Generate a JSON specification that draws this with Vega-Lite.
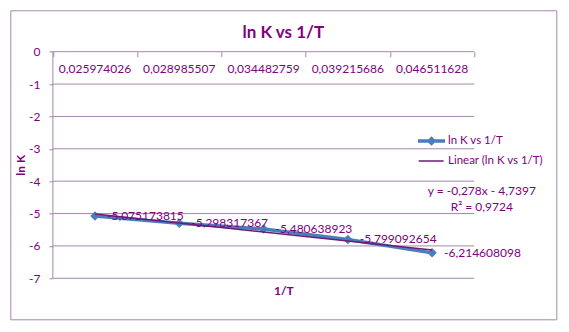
{
  "$schema": "https://vega.github.io/schema/vega-lite/v6.json",
  "width": 546,
  "height": 309,
  "autosize": {"type": "none"},
  "padding": {"left": 10.3, "top": 10.3, "right": 12.7, "bottom": 12.7},
  "background": "white",
  "config": {
    "view": {"stroke": "#A886B0", "strokeWidth": 1},
    "font": "Lato",
    "locale": {"number": {"decimal": ",", "thousands": ".", "grouping": [3], "currency": ["", " €"], "minus": "-"}}
  },
  "title": {
    "text": "ln K vs 1/T",
    "font": "Lato",
    "fontSize": 17,
    "fontWeight": "bold",
    "color": "#800080",
    "frame": "group",
    "baseline": "alphabetic",
    "offset": -44.4
  },
  "datasets": {
    "points": [
      {"idx": 1, "invT": 0.025974026, "lnK": -5.075173815, "series": "ln K vs 1/T"},
      {"idx": 2, "invT": 0.028985507, "lnK": -5.298317367, "series": "ln K vs 1/T"},
      {"idx": 3, "invT": 0.034482759, "lnK": -5.480638923, "series": "ln K vs 1/T"},
      {"idx": 4, "invT": 0.039215686, "lnK": -5.799092654, "series": "ln K vs 1/T"},
      {"idx": 5, "invT": 0.046511628, "lnK": -6.214608098, "series": "ln K vs 1/T"}
    ],
    "grid": [{"v": 0}, {"v": -1}, {"v": -2}, {"v": -3}, {"v": -4}, {"v": -5}, {"v": -6}, {"v": -7}],
    "one": [{}]
  },
  "data": {"name": "points"},
  "layer": [
    {
      "data": {"name": "grid"},
      "mark": {"type": "rule", "color": "#A886B0", "strokeWidth": 1},
      "encoding": {
        "x": {
          "datum": 0.5,
          "type": "quantitative",
          "scale": {"domain": [-0.005, 6.474], "nice": false, "zero": false},
          "axis": {
            "orient": "bottom",
            "offset": -267.6,
            "values": [0.5, 1.5, 2.5, 3.5, 4.5, 5.5],
            "labels": false,
            "domain": false,
            "grid": false,
            "ticks": true,
            "tickSize": 5,
            "tickColor": "#A886B0",
            "title": "1/T",
            "titleFont": "Lato",
            "titleFontSize": 12,
            "titleFontWeight": "bold",
            "titleColor": "#800080",
            "titleY": 239,
            "titleBaseline": "middle"
          }
        },
        "x2": {"datum": 5.5},
        "y": {
          "field": "v",
          "type": "quantitative",
          "scale": {"domain": [-8.267, 1.279], "nice": false, "zero": false},
          "axis": {
            "orient": "left",
            "offset": -42.56,
            "values": [-7, -6, -5, -4, -3, -2, -1, 0],
            "domain": false,
            "grid": false,
            "tickSize": 4,
            "tickColor": "#A886B0",
            "labelFont": "Lato",
            "labelFontSize": 12,
            "labelColor": "#800080",
            "labelPadding": 9,
            "format": "d",
            "title": "ln K",
            "titleFont": "Lato",
            "titleFontSize": 12,
            "titleFontWeight": "bold",
            "titleColor": "#800080",
            "titleX": -32.5,
            "titleBaseline": "middle",
            "titleAlign": "center"
          }
        }
      }
    },
    {
      "data": {"name": "one"},
      "mark": {"type": "rule", "color": "#A886B0", "strokeWidth": 1},
      "encoding": {
        "x": {"datum": 0.5, "type": "quantitative"},
        "y": {"datum": 0, "type": "quantitative"},
        "y2": {"datum": -7}
      }
    },
    {
      "mark": {
        "type": "line",
        "color": "#4A7EBB",
        "strokeWidth": 3.5,
        "point": {"shape": "diamond", "size": 90, "filled": true, "color": "#4A7EBB"}
      },
      "encoding": {
        "x": {"field": "idx", "type": "quantitative"},
        "y": {"field": "lnK", "type": "quantitative"}
      }
    },
    {
      "transform": [{"regression": "lnK", "on": "idx", "method": "linear"}],
      "mark": {"type": "line", "color": "#6E1A78", "strokeWidth": 1.5},
      "encoding": {
        "x": {"field": "idx", "type": "quantitative"},
        "y": {"field": "lnK", "type": "quantitative"}
      }
    },
    {
      "mark": {"type": "text", "align": "left", "baseline": "middle", "dx": 12, "font": "Lato", "fontSize": 12, "color": "#800080"},
      "encoding": {
        "x": {"field": "idx", "type": "quantitative"},
        "y": {"field": "lnK", "type": "quantitative"},
        "text": {"field": "lnK", "type": "quantitative", "format": ".9f"}
      }
    },
    {
      "mark": {"type": "text", "align": "center", "baseline": "middle", "dy": 17, "font": "Lato", "fontSize": 12, "color": "#800080"},
      "encoding": {
        "x": {"field": "idx", "type": "quantitative"},
        "y": {"datum": 0, "type": "quantitative"},
        "text": {"field": "invT", "type": "quantitative", "format": ".9f"}
      }
    },
    {
      "data": {"name": "one"},
      "mark": {"type": "text", "align": "center", "baseline": "middle", "font": "Lato", "fontSize": 12, "color": "#800080"},
      "encoding": {
        "x": {"datum": 5.59, "type": "quantitative"},
        "y": {"datum": -4.303, "type": "quantitative"},
        "text": {"value": "y = -0,278x - 4,7397"}
      }
    },
    {
      "data": {"name": "one"},
      "mark": {"type": "text", "align": "center", "baseline": "middle", "font": "Lato", "fontSize": 12, "color": "#800080"},
      "encoding": {
        "x": {"datum": 5.59, "type": "quantitative"},
        "y": {"datum": -4.798, "type": "quantitative"},
        "text": {"value": "R² = 0,9724"}
      }
    },
    {
      "transform": [{"filter": "false"}],
      "mark": {"type": "point", "filled": true, "size": 729, "opacity": 1},
      "encoding": {
        "x": {"field": "idx", "type": "quantitative"},
        "y": {"field": "lnK", "type": "quantitative"},
        "color": {
          "field": "series",
          "type": "nominal",
          "scale": {"domain": ["ln K vs 1/T", "Linear (ln K vs 1/T)"], "range": ["#4A7EBB", "#6E1A78"]},
          "legend": {
            "orient": "none",
            "legendX": 407.7,
            "legendY": 120.7,
            "title": null,
            "symbolSize": 729,
            "symbolStrokeWidth": 0,
            "clipHeight": 20,
            "rowPadding": 0,
            "padding": 0,
            "labelFont": "Lato",
            "labelFontSize": 11.5,
            "labelColor": "#800080",
            "labelOffset": 3,
            "labelLimit": 300
          }
        },
        "shape": {
          "field": "series",
          "type": "nominal",
          "scale": {
            "domain": ["ln K vs 1/T", "Linear (ln K vs 1/T)"],
            "range": [
              "M-1,-0.13L1,-0.13L1,0.13L-1,0.13Z M0,-0.36L0.36,0L0,0.36L-0.36,0Z",
              "M-0.95,-0.055L0.9,-0.055L0.9,0.055L-0.95,0.055Z"
            ]
          }
        }
      }
    }
  ]
}
